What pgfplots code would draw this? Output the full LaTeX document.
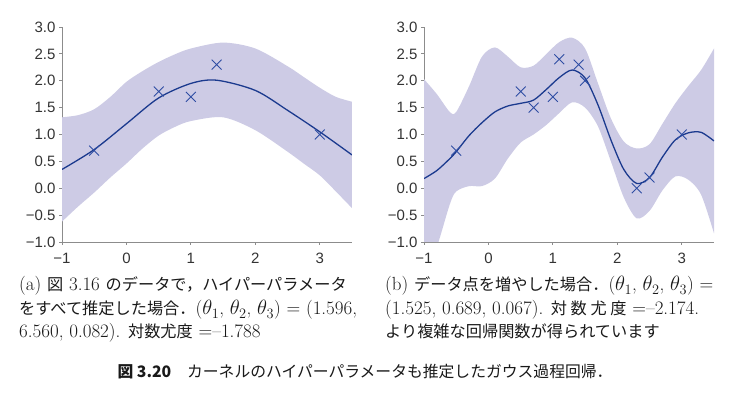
\documentclass[border=0pt]{standalone}
\usepackage{pgfplots}
\pgfplotsset{compat=1.18}
\usepgfplotslibrary{fillbetween}
\usepackage{fontspec}
\setsansfont{Liberation Sans}
\newfontfamily\jp{Noto Sans CJK JP}
\newcommand\J[1]{{\jp\fontsize{16.2bp}{23bp}\selectfont #1}}
\definecolor{bandc}{HTML}{CDCBE5}
\definecolor{meanc}{HTML}{1B3A8E}
\definecolor{markc}{HTML}{2E4DA3}
\definecolor{spine}{HTML}{8C8C8C}
\definecolor{ticklab}{HTML}{333333}
\pgfplotsset{gpstyle/.style={
  scale only axis, width=290bp, height=215bp,
  xmin=-1, xmax=3.5, ymin=-1, ymax=3,
  axis x line*=bottom, axis y line*=left,
  axis line style={spine, line width=0.8pt},
  xtick={-1,0,1,2,3}, xticklabels={−1,0,1,2,3},
  ytick={-1,-0.5,0,0.5,1,1.5,2,2.5,3},
  yticklabels={−1.0,−0.5,0.0,0.5,1.0,1.5,2.0,2.5,3.0},
  tick style={spine, line width=0.8pt}, major tick length=3bp, tick align=outside,
  ticklabel style={font=\sffamily\fontsize{15bp}{15bp}\selectfont, text=ticklab},
  xticklabel style={yshift=-5bp},
  clip=true,
}}
\pgfplotstableread{
x up lo
-1 1.32 -0.62
-0.75 1.36 -0.34
-0.5 1.47 -0.08
-0.25 1.70 0.20
0 1.98 0.46
0.25 2.18 0.74
0.5 2.35 0.98
0.75 2.49 1.14
1.0 2.60 1.25
1.5 2.71 1.32
2.0 2.60 1.08
2.5 2.27 0.68
2.75 2.07 0.46
3.0 1.87 0.24
3.25 1.70 -0.06
3.5 1.61 -0.37
}\bandA
\pgfplotstableread{
x y
-1 0.35
-0.5 0.72
0 1.20
0.5 1.68
1.0 1.95
1.4 2.01
2.0 1.82
2.5 1.45
3.0 1.05
3.5 0.62
}\meanA
\pgfplotstableread{
x y
-0.5 0.7
0.5 1.8
1.0 1.7
1.4 2.3
3.0 1.0
}\dataA
\pgfplotstableread{
x up lo
-1 2.03 -1.67
-0.8 1.75 -1.09
-0.6 1.42 -0.30
-0.5 1.42 -0.06
-0.3 1.90 0.04
-0.1 2.45 0.04
0.1 2.62 0.18
0.3 2.45 0.55
0.5 2.25 0.85
0.7 2.28 1.00
0.9 2.50 1.18
1.1 2.72 1.40
1.3 2.80 1.60
1.5 2.60 1.50
1.7 1.95 1.15
1.9 1.30 0.50
2.1 0.87 -0.17
2.3 0.74 -0.56
2.5 0.82 -0.42
2.7 1.20 -0.04
2.9 1.58 0.22
3.1 1.90 0.16
3.3 2.20 -0.12
3.5 2.60 -0.84
}\bandB
\pgfplotstableread{
x y
-1 0.18
-0.8 0.33
-0.6 0.55
-0.5 0.68
-0.3 0.98
-0.1 1.22
0.1 1.42
0.3 1.53
0.5 1.58
0.7 1.64
0.9 1.84
1.1 2.06
1.3 2.20
1.5 2.05
1.7 1.55
1.9 0.90
2.1 0.35
2.3 0.09
2.5 0.20
2.7 0.58
2.9 0.90
3.1 1.03
3.3 1.04
3.5 0.88
}\meanB
\pgfplotstableread{
x y
-0.5 0.7
0.5 1.8
0.7 1.5
1.0 1.7
1.1 2.4
1.4 2.3
1.5 2.0
2.3 0.0
2.5 0.2
3.0 1.0
}\dataB
\begin{document}
\begin{tikzpicture}
\begin{axis}[gpstyle, at={(62bp,154bp)}, anchor=south west]
  \addplot[name path=uA, draw=none, smooth] table[x=x,y=up] {\bandA};
  \addplot[name path=lA, draw=none, smooth] table[x=x,y=lo] {\bandA};
  \addplot[fill=bandc, draw=none] fill between[of=uA and lA];
  \addplot[meanc, line width=1.3pt, smooth] table[x=x,y=y] {\meanA};
  \addplot[only marks, mark=x, mark size=7bp, mark options={markc, line width=0.9pt}] table[x=x,y=y] {\dataA};
\end{axis}
\begin{axis}[gpstyle, at={(424bp,154bp)}, anchor=south west]
  \addplot[name path=uB, draw=none, smooth] table[x=x,y=up] {\bandB};
  \addplot[name path=lB, draw=none, smooth] table[x=x,y=lo] {\bandB};
  \addplot[fill=bandc, draw=none] fill between[of=uB and lB];
  \addplot[meanc, line width=1.3pt, smooth] table[x=x,y=y] {\meanB};
  \addplot[only marks, mark=x, mark size=7bp, mark options={markc, line width=0.9pt}] table[x=x,y=y] {\dataB};
\end{axis}
\begin{scope}[every node/.style={anchor=base west, inner sep=0pt, font=\fontsize{19bp}{23bp}\selectfont, text=black!90}]
\node at (19bp,105bp) {(a) \J{図} 3.16 \J{のデータで，ハイパーパラメータ}};
\node at (19bp,81bp) {\J{をすべて推定した場合．}($\theta_1$, $\theta_2$, $\theta_3$) = (1.596,};
\node at (19bp,58bp) {6.560, 0.082). \J{対数尤度} =--1.788};
\node at (385bp,105bp) {(b) \J{データ点を増やした場合．}($\theta_1$, $\theta_2$, $\theta_3$) =};
\node at (385bp,81bp) {(1.525, 0.689, 0.067). \J{対 数 尤 度} =--2.174.};
\node at (385bp,58bp) {\J{より複雑な回帰関数が得られています}};
\node[anchor=base, font=\fontsize{15.8bp}{20bp}\selectfont] at (365bp,19bp) {{\jp\bfseries 図 3.20}\hspace{1em}{\jp カーネルのハイパーパラメータも推定したガウス過程回帰．}};
\end{scope}
\path (0,0) rectangle (738bp,396bp);
\end{tikzpicture}
\end{document}
